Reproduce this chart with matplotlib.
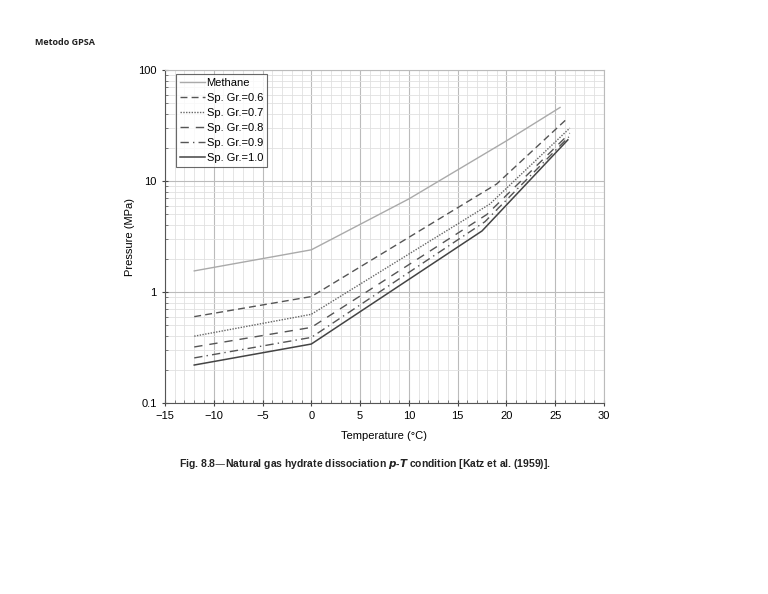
import numpy as np
import matplotlib.pyplot as plt
from matplotlib.ticker import MultipleLocator, LogLocator, FixedLocator, FuncFormatter

# Datos (temperatura en grados C, presion en MPa)
t_metano = [-12, 0, 10, 20, 25.5]
p_metano = [1.55, 2.4, 6.9, 23, 46]

t_06 = [-12, 0, 19.0, 26.3]
p_06 = [0.60, 0.91, 9.4, 37]

t_07 = [-12, 0, 18.3, 26.5]
p_07 = [0.40, 0.63, 6.2, 30]

t_08 = [-12, 0, 18.0, 26.5]
p_08 = [0.32, 0.48, 5.0, 27]

t_09 = [-12, 0, 17.8, 26.4]
p_09 = [0.255, 0.39, 4.3, 25]

t_10 = [-12, 0, 17.5, 26.3]
p_10 = [0.22, 0.34, 3.55, 23.5]

etiquetas = ['Methane', 'Sp. Gr.=0.6', 'Sp. Gr.=0.7', 'Sp. Gr.=0.8', 'Sp. Gr.=0.9', 'Sp. Gr.=1.0']

plt.rcParams['font.family'] = ['Liberation Sans', 'DejaVu Sans']

fig = plt.figure(figsize=(7.68, 5.94), dpi=100)
fig.text(0.046, 0.925, 'Metodo GPSA', fontsize=6.5, family='Open Sans', fontweight='bold', color='#222222')

ax = fig.add_axes([0.2148, 0.3215, 0.5716, 0.5606])

ax.plot(t_metano, p_metano, color='#aaaaaa', lw=1.0, label=etiquetas[0])
ax.plot(t_06, p_06, color='#555555', lw=1.0, ls=(0, (5, 3)), label=etiquetas[1])
ax.plot(t_07, p_07, color='#666666', lw=1.0, ls=(0, (1, 1)), label=etiquetas[2])
ax.plot(t_08, p_08, color='#555555', lw=1.0, ls=(0, (6, 5)), label=etiquetas[3])
ax.plot(t_09, p_09, color='#555555', lw=1.0, ls=(0, (6, 3, 1, 3)), label=etiquetas[4])
ax.plot(t_10, p_10, color='#444444', lw=1.1, label=etiquetas[5])

ax.set_yscale('log')
ax.set_xlim(-15, 30)
ax.set_ylim(0.1, 100)

ax.xaxis.set_major_locator(MultipleLocator(5))
ax.xaxis.set_minor_locator(MultipleLocator(1))
ax.yaxis.set_major_locator(FixedLocator([0.1, 1, 10, 100]))
ax.yaxis.set_minor_locator(LogLocator(base=10, subs=np.arange(2, 10)))
ax.yaxis.set_major_formatter(FuncFormatter(lambda v, p: '%g' % v))
ax.xaxis.set_major_formatter(FuncFormatter(lambda v, p: ('%d' % v).replace('-', '\u2212')))

ax.grid(which='major', color='#bbbbbb', lw=0.8)
ax.grid(which='minor', color='#e0e0e0', lw=0.6)
ax.set_axisbelow(True)

ax.tick_params(which='major', direction='inout', length=5, labelsize=8, color='#444444')
ax.tick_params(which='minor', direction='in', length=2.5, color='#666666')
ax.tick_params(top=False, right=False, which='both')
for lado in ['top', 'right']:
    ax.spines[lado].set_color('#bbbbbb')
for lado in ['left', 'bottom']:
    ax.spines[lado].set_color('#555555')

ax.set_xlabel('Temperature (\u00b0C)', fontsize=8, labelpad=7)
ax.set_ylabel('Pressure (MPa)', fontsize=8, labelpad=2)

leg = ax.legend(loc='upper left', fontsize=8, frameon=True, fancybox=False,
                edgecolor='#444444', handlelength=2.3, handletextpad=0.1,
                borderpad=0.35, labelspacing=0.45, borderaxespad=0.4,
                bbox_to_anchor=(0.015, 1.0))
leg.get_frame().set_linewidth(0.8)

fig.text(0.475, 0.213, 'Fig. 8.8\u2014Natural gas hydrate dissociation $\\bfit{p}$-$\\bfit{T}$ condition [Katz et al. (1959)].',
         fontsize=7.5, fontweight='bold', ha='center', color='#222222')

plt.savefig('out.png', dpi=100)
